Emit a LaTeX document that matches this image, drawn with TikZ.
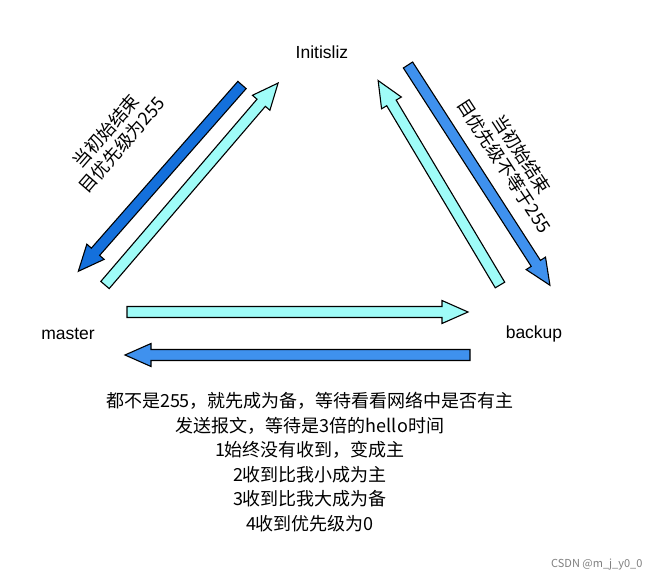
\documentclass[tikz,border=0pt]{standalone}
\usepackage{fontspec}
\setmainfont{Liberation Sans}
\newfontfamily\cjk{Noto Sans CJK SC}
\definecolor{darkb}{HTML}{1470DC}
\definecolor{midb}{HTML}{3F91EE}
\definecolor{cyanl}{HTML}{9FFCF8}
\newcommand\barrow[5]{\begin{scope}[shift={(#1,#2)},rotate=#3]
\draw[arr,fill=#5] (0,-5.5)--({#4-26},-5.5)--({#4-26},-11.5)--(#4,0)--({#4-26},11.5)--({#4-26},5.5)--(0,5.5)--cycle;
\end{scope}}
\begin{document}
\begin{tikzpicture}[x=1pt,y=1pt,arr/.style={draw=black,line width=1.1pt,line join=miter},
 lbl/.style={font=\fontsize{17.5}{20}\selectfont},
 rt/.style={font=\fontsize{18}{21}\selectfont\cjk,align=center,inner sep=0pt},
 tx/.style={font=\fontsize{18}{24.5}\selectfont\cjk,align=center}]
\useasboundingbox[fill=white] (0,0) rectangle (657,582);
\barrow{242}{497}{228.7}{248}{darkb}
\barrow{105}{297}{49.4}{266}{cyanl}
\barrow{500}{297}{120.8}{238}{cyanl}
\barrow{408}{517}{-57.2}{262}{midb}
\barrow{127}{270}{0}{341}{cyanl}
\barrow{470}{227}{180}{345}{midb}
\node[lbl] (init) at (322,530) {Initisliz};
\node[lbl] (master) at (68,248) {master};
\node[lbl] (backup) at (534,248) {backup};
\node[rt,rotate=49] (l) at (114,444) {当初始结束\\目优先级为255};
\node[rt,rotate=-57] (r) at (513,422) {当初始结束\\目优先级不等于255};
\node[tx] (b) at (310,120) {都不是255，就先成为备，等待看看网络中是否有主\\发送报文，等待是3倍的hello时间\\1始终没有收到，变成主\\2收到比我小成为主\\3收到比我大成为备\\4收到优先级为0};
\node[font=\fontsize{11}{13}\selectfont\cjk,text=gray,anchor=east] (w) at (646,17) {CSDN @m\_j\_y0\_0};
\end{tikzpicture}
\end{document}
